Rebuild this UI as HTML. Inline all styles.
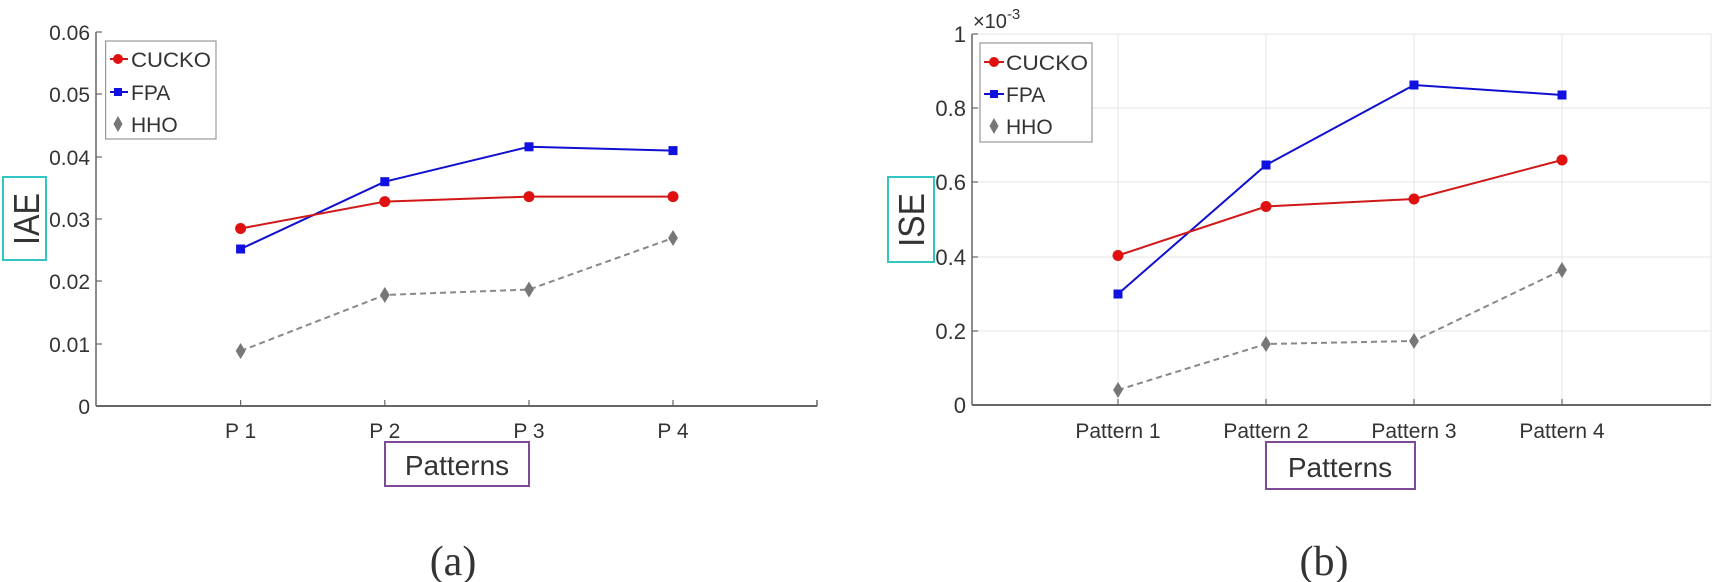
<!DOCTYPE html>
<html><head><meta charset="utf-8"><style>
html,body{margin:0;padding:0;background:#fff}
svg{display:block}
text{font-family:"Liberation Sans",sans-serif;fill:#333}
</style></head><body>
<svg width="1716" height="582" viewBox="0 0 1716 582" xmlns="http://www.w3.org/2000/svg">
<!-- LEFT CHART -->
<g>
  <line x1="96" y1="32" x2="96" y2="406" stroke="#666" stroke-width="1.5"/>
  <line x1="96" y1="406" x2="817" y2="406" stroke="#666" stroke-width="2"/>
  <line x1="817" y1="400" x2="817" y2="406" stroke="#666" stroke-width="1.5"/>
  <g stroke="#666" stroke-width="1.2">
    <line x1="96" y1="32" x2="102" y2="32"/><line x1="96" y1="94" x2="102" y2="94"/>
    <line x1="96" y1="157" x2="102" y2="157"/><line x1="96" y1="219" x2="102" y2="219"/>
    <line x1="96" y1="281" x2="102" y2="281"/><line x1="96" y1="344" x2="102" y2="344"/>
    <line x1="240.6" y1="400" x2="240.6" y2="406"/><line x1="384.8" y1="400" x2="384.8" y2="406"/>
    <line x1="529" y1="400" x2="529" y2="406"/><line x1="673" y1="400" x2="673" y2="406"/>
  </g>
  <g font-size="21" text-anchor="end">
    <text x="90" y="40">0.06</text><text x="90" y="102">0.05</text>
    <text x="90" y="165">0.04</text><text x="90" y="227">0.03</text>
    <text x="90" y="289">0.02</text><text x="90" y="352">0.01</text>
    <text x="90" y="414">0</text>
  </g>
  <g font-size="21" text-anchor="middle">
    <text x="240.6" y="438">P 1</text><text x="384.8" y="438">P 2</text>
    <text x="529" y="438">P 3</text><text x="673" y="438">P 4</text>
  </g>
  <polyline points="240.6,351 384.8,295 529,289.5 673,238" fill="none" stroke="#888" stroke-width="2" stroke-dasharray="6,4"/>
  <polyline points="240.6,249 384.8,181.7 529,146.8 673,150.6" fill="none" stroke="#1010d0" stroke-width="2"/>
  <polyline points="240.6,228.5 384.8,201.6 529,196.6 673,196.6" fill="none" stroke="#d01818" stroke-width="2"/>
  <g fill="#777">
    <polygon points="240.6,343 245.5,351 240.6,359 235.7,351"/><polygon points="384.8,287 389.7,295 384.8,303 379.9,295"/>
    <polygon points="529,281.5 533.9,289.5 529,297.5 524.1,289.5"/><polygon points="673,230 677.9,238 673,246 668.1,238"/>
  </g>
  <g fill="#1010e0">
    <rect x="236.1" y="244.5" width="9" height="9"/><rect x="380.3" y="177.2" width="9" height="9"/>
    <rect x="524.5" y="142.3" width="9" height="9"/><rect x="668.5" y="146.1" width="9" height="9"/>
  </g>
  <g fill="#e01010">
    <circle cx="240.6" cy="228.5" r="5.5"/><circle cx="384.8" cy="201.6" r="5.5"/>
    <circle cx="529" cy="196.6" r="5.5"/><circle cx="673" cy="196.6" r="5.5"/>
  </g>
  <rect x="105.6" y="41" width="110.4" height="98" fill="#fff" stroke="#999" stroke-width="1.2"/>
  <line x1="110" y1="59" x2="128" y2="59" stroke="#d01818" stroke-width="2"/><circle cx="118" cy="59" r="5" fill="#e01010"/>
  <line x1="110" y1="92" x2="128" y2="92" stroke="#1010d0" stroke-width="2"/><rect x="114" y="88" width="8" height="8" fill="#1010e0"/>
  <polygon points="118,116 122.5,124 118,132 113.5,124" fill="#777"/>
  <g font-size="21" fill="#222">
    <text x="131" y="67" textLength="80" lengthAdjust="spacingAndGlyphs">CUCKO</text>
    <text x="131" y="100">FPA</text>
    <text x="131" y="132">HHO</text>
  </g>
  <rect x="3" y="177" width="43" height="83" fill="none" stroke="#33c4c4" stroke-width="2"/>
  <text transform="translate(39,245) rotate(-90)" font-size="36" textLength="52" lengthAdjust="spacingAndGlyphs" fill="#222">IAE</text>
  <rect x="385" y="442" width="144" height="44" fill="none" stroke="#7d4a96" stroke-width="2"/>
  <text x="457" y="475" font-size="28" text-anchor="middle" fill="#222">Patterns</text>
  <text x="453" y="575" font-size="42" text-anchor="middle" style="font-family:'Liberation Serif',serif" fill="#111">(a)</text>
</g>

<!-- RIGHT CHART -->
<g>
  <g stroke="#e6e6e6" stroke-width="1">
    <line x1="972" y1="34" x2="1711" y2="34"/><line x1="972" y1="108" x2="1711" y2="108"/>
    <line x1="972" y1="182" x2="1711" y2="182"/><line x1="972" y1="257" x2="1711" y2="257"/>
    <line x1="972" y1="331" x2="1711" y2="331"/>
    <line x1="1118" y1="34" x2="1118" y2="405"/><line x1="1266" y1="34" x2="1266" y2="405"/>
    <line x1="1414" y1="34" x2="1414" y2="405"/><line x1="1562" y1="34" x2="1562" y2="405"/>
    <line x1="1711" y1="34" x2="1711" y2="405"/>
  </g>
  <line x1="972" y1="34" x2="972" y2="405" stroke="#666" stroke-width="1.5"/>
  <line x1="972" y1="405" x2="1711" y2="405" stroke="#666" stroke-width="2"/>
  <g stroke="#666" stroke-width="1.2">
    <line x1="972" y1="34" x2="978" y2="34"/><line x1="972" y1="108" x2="978" y2="108"/>
    <line x1="972" y1="182" x2="978" y2="182"/><line x1="972" y1="257" x2="978" y2="257"/>
    <line x1="972" y1="331" x2="978" y2="331"/>
    <line x1="1118" y1="399" x2="1118" y2="405"/><line x1="1266" y1="399" x2="1266" y2="405"/>
    <line x1="1414" y1="399" x2="1414" y2="405"/><line x1="1562" y1="399" x2="1562" y2="405"/>
  </g>
  <g font-size="22" text-anchor="end">
    <text x="966" y="42">1</text><text x="966" y="116">0.8</text>
    <text x="966" y="190">0.6</text><text x="966" y="265">0.4</text>
    <text x="966" y="339">0.2</text><text x="966" y="413">0</text>
  </g>
  <text x="973" y="28" font-size="20" fill="#555">×10<tspan font-size="15" dy="-9">-3</tspan></text>
  <g font-size="21" text-anchor="middle">
    <text x="1118" y="438">Pattern 1</text><text x="1266" y="438">Pattern 2</text>
    <text x="1414" y="438">Pattern 3</text><text x="1562" y="438">Pattern 4</text>
  </g>
  <polyline points="1118,390 1266,344 1414,341 1562,270" fill="none" stroke="#888" stroke-width="2" stroke-dasharray="6,4"/>
  <polyline points="1118,294 1266,165 1414,85 1562,95" fill="none" stroke="#1010d0" stroke-width="2"/>
  <polyline points="1118,255.5 1266,206.5 1414,199 1562,160" fill="none" stroke="#d01818" stroke-width="2"/>
  <g fill="#777">
    <polygon points="1118,382 1122.9,390 1118,398 1113.1,390"/><polygon points="1266,336 1270.9,344 1266,352 1261.1,344"/>
    <polygon points="1414,333 1418.9,341 1414,349 1409.1,341"/><polygon points="1562,262 1566.9,270 1562,278 1557.1,270"/>
  </g>
  <g fill="#1010e0">
    <rect x="1113.5" y="289.5" width="9" height="9"/><rect x="1261.5" y="160.5" width="9" height="9"/>
    <rect x="1409.5" y="80.5" width="9" height="9"/><rect x="1557.5" y="90.5" width="9" height="9"/>
  </g>
  <g fill="#e01010">
    <circle cx="1118" cy="255.5" r="5.5"/><circle cx="1266" cy="206.5" r="5.5"/>
    <circle cx="1414" cy="199" r="5.5"/><circle cx="1562" cy="160" r="5.5"/>
  </g>
  <rect x="980" y="43" width="112" height="99" fill="#fff" stroke="#999" stroke-width="1.2"/>
  <line x1="984" y1="62" x2="1004" y2="62" stroke="#d01818" stroke-width="2"/><circle cx="994" cy="62" r="5" fill="#e01010"/>
  <line x1="984" y1="94" x2="1004" y2="94" stroke="#1010d0" stroke-width="2"/><rect x="990" y="90" width="8" height="8" fill="#1010e0"/>
  <polygon points="994,118 998.5,126 994,134 989.5,126" fill="#777"/>
  <g font-size="21" fill="#222">
    <text x="1006" y="70" textLength="82" lengthAdjust="spacingAndGlyphs">CUCKO</text>
    <text x="1006" y="102">FPA</text>
    <text x="1006" y="134">HHO</text>
  </g>
  <rect x="888" y="177" width="46" height="85" fill="none" stroke="#33c4c4" stroke-width="2"/>
  <text transform="translate(924,247) rotate(-90)" font-size="36" textLength="54" lengthAdjust="spacingAndGlyphs" fill="#222">ISE</text>
  <rect x="1266" y="442" width="149" height="47" fill="none" stroke="#7d4a96" stroke-width="2"/>
  <text x="1340" y="477" font-size="28" text-anchor="middle" fill="#222">Patterns</text>
  <text x="1324" y="575" font-size="42" text-anchor="middle" style="font-family:'Liberation Serif',serif" fill="#111">(b)</text>
</g>
</svg>
</body></html>
